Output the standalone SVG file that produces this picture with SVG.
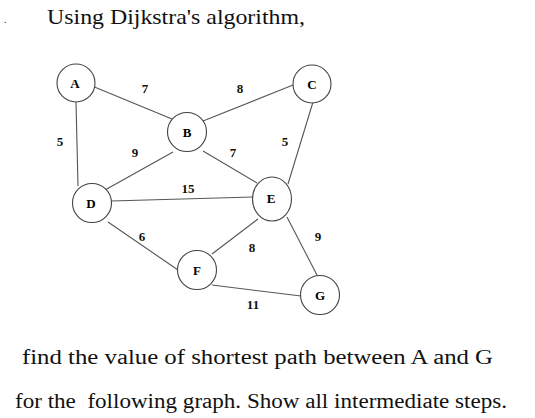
<svg xmlns="http://www.w3.org/2000/svg" width="535" height="418" viewBox="0 0 535 418">
<style>
.e{stroke:#555;stroke-width:1.1;fill:none}
.n{fill:#fff;stroke:#444;stroke-width:1.1}
</style>
<rect width="535" height="418" fill="#fff"/>
<g font-family="'Liberation Serif', 'Times New Roman', serif" fill="#111" font-size="21">
<text x="4" y="23" font-size="10">.</text>
<text x="47" y="24" textLength="258" lengthAdjust="spacingAndGlyphs">Using Dijkstra's algorithm,</text>
<text x="22" y="364" font-size="20" textLength="471" lengthAdjust="spacingAndGlyphs">find the value of shortest path between A and G</text>
<text x="15" y="408" font-size="20" textLength="492" lengthAdjust="spacingAndGlyphs" xml:space="preserve">for the  following graph. Show all intermediate steps.</text>
</g>
<g id="connectors">
<line class="e" x1="92" y1="86" x2="172" y2="119"/>
<line class="e" x1="76" y1="102" x2="78" y2="186"/>
<line class="e" x1="203" y1="121" x2="293" y2="85"/>
<line class="e" x1="173" y1="152" x2="105" y2="190"/>
<line class="e" x1="203" y1="151" x2="257" y2="183"/>
<line class="e" x1="313" y1="102" x2="288" y2="184"/>
<line class="e" x1="111" y1="201" x2="253" y2="197"/>
<line class="e" x1="108" y1="222" x2="178" y2="270"/>
<line class="e" x1="258" y1="219" x2="212" y2="254"/>
<line class="e" x1="287" y1="217" x2="318" y2="277"/>
<line class="e" x1="212" y1="285" x2="301" y2="296"/>
<g font-family="'Liberation Serif', 'Times New Roman', serif" font-weight="bold" font-size="13" fill="#111" text-anchor="middle" dominant-baseline="central">
<text x="145" y="88">7</text>
<text x="240" y="88">8</text>
<text x="60" y="141">5</text>
<text x="135" y="152">9</text>
<text x="233" y="152">7</text>
<text x="285" y="141">5</text>
<text x="188" y="188">15</text>
<text x="142" y="236">6</text>
<text x="252" y="247">8</text>
<text x="318" y="236">9</text>
<text x="253" y="304">11</text>
</g>
</g>
<g font-family="'Liberation Serif', 'Times New Roman', serif" font-weight="bold" font-size="13" fill="#000" text-anchor="middle" dominant-baseline="central">
<g id="A"><circle class="n" cx="76" cy="83" r="19"/><text x="75" y="83">A</text></g>
<g id="B"><circle class="n" cx="187" cy="132" r="19.5"/><text x="187" y="132">B</text></g>
<g id="C"><circle class="n" cx="312" cy="84" r="19"/><text x="312" y="84">C</text></g>
<g id="D"><circle class="n" cx="92" cy="203" r="19.5"/><text x="91" y="203">D</text></g>
<g id="E"><ellipse class="n" cx="272" cy="199" rx="19.5" ry="22"/><text x="271" y="198">E</text></g>
<g id="F"><circle class="n" cx="197" cy="270" r="19.5"/><text x="197" y="270">F</text></g>
<g id="G"><circle class="n" cx="320" cy="295" r="19.5"/><text x="320" y="295">G</text></g>
</g>
</svg>
